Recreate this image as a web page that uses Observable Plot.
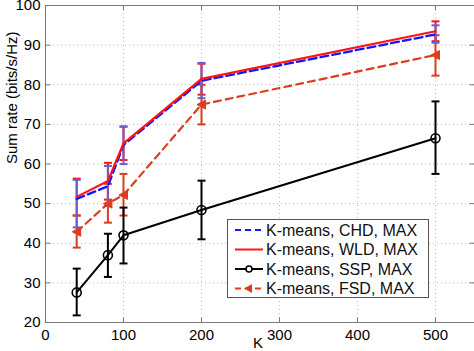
<!DOCTYPE html>
<html><head><meta charset="utf-8">
<script src="https://cdn.jsdelivr.net/npm/d3@7"></script>
<script src="https://cdn.jsdelivr.net/npm/@observablehq/plot@0.6"></script>
<style>
html,body{margin:0;padding:0;background:#fff;}
#wrap{position:relative;width:474px;height:351px;overflow:hidden;font-family:"Liberation Sans",Arial,sans-serif;}
#legend{position:absolute;left:227px;top:220px;}
</style></head><body><div id="wrap"></div>
<script>
// ---- data ----
const K = [40, 80, 100, 200, 500];
const seriesNames = ["K-means, CHD, MAX", "K-means, WLD, MAX", "K-means, SSP, MAX", "K-means, FSD, MAX"];
const chdRate = [51.2, 54.4, 64.8, 81.0, 92.7];
const chdLow  = [44.0, 49.4, 60.0, 76.6, 90.6];
const chdHigh = [56.0, 59.5, 69.5, 85.5, 95.0];
const wldRate = [51.7, 55.7, 65.2, 81.5, 93.5];
const wldLow  = [47.0, 51.0, 61.0, 77.5, 91.0];
const wldHigh = [56.3, 60.3, 69.4, 85.3, 96.0];
const sspRate = [27.6, 37.0, 42.0, 48.4, 66.5];
const sspLow  = [21.8, 31.5, 34.9, 41.0, 57.5];
const sspHigh = [33.6, 42.4, 49.0, 55.8, 75.8];
const fsdRate = [42.9, 50.0, 52.2, 75.0, 87.5];
const fsdLow  = [38.9, 45.2, 47.0, 70.0, 82.3];
const fsdHigh = [47.0, 55.0, 57.5, 80.0, 92.5];
const xTicks = [0, 100, 200, 300, 400, 500];
const yTicks = [20, 30, 40, 50, 60, 70, 80, 90, 100];
const xDomain = [0, 550];
const yDomain = [20, 100];
const xLabel = "K";
const yLabel = "Sum rate (bits/s/Hz)";

// ---- styles ----
const styles = [
  {color: "#1414ff", bar: "#6a5fd0", dash: "8,4", width: 2.3, marker: null},
  {color: "#ff1414", bar: "#ff1414", dash: null, width: 2.2, marker: null},
  {color: "#000000", bar: "#000000", dash: null, width: 2, marker: "circle"},
  {color: "#dc3c1e", bar: "#dc3c1e", dash: "7,5", width: 2.2, marker: "triangle"}
];
const rates = [chdRate, wldRate, sspRate, fsdRate];
const lows = [chdLow, wldLow, sspLow, fsdLow];
const highs = [chdHigh, wldHigh, sspHigh, fsdHigh];
const series = seriesNames.map((name, i) => ({
  name, style: styles[i],
  rows: K.map((k, j) => ({k, v: rates[i][j], lo: lows[i][j], hi: highs[i][j]}))
}));

// custom symbols (pixel sized)
const seg = (x0, y0, x1, y1) => ({draw(c) { c.moveTo(x0, y0); c.lineTo(x1, y1); }});
const capSym = seg(-4, 0, 4, 0);
const tickLeft = seg(0, 0, 5, 0);
const tickRight = seg(0, 0, -5, 0);
const tickBottom = seg(0, 0, 0, -5);
const tickTop = seg(0, 0, 0, 5);
const triLeft = {draw(c) { c.moveTo(-4.5, 0); c.lineTo(4, -4.5); c.lineTo(4, 4.5); c.closePath(); }};

const axisColor = "#7a7a7a";
const gridStyle = {stroke: "#b8b8b8", strokeDasharray: "1,3", strokeWidth: 1};

const marks = [
  Plot.ruleX(xTicks.filter(t => t > xDomain[0]), gridStyle),
  Plot.ruleY(yTicks.filter(t => t > yDomain[0] && t < yDomain[1]), gridStyle),
  Plot.ruleY([yDomain[0], yDomain[1]], {stroke: axisColor, strokeWidth: 1}),
  Plot.ruleX([xDomain[0]], {stroke: axisColor, strokeWidth: 1}),
  Plot.dot(yTicks, {x: () => xDomain[0], y: d => d, symbol: tickLeft, stroke: axisColor, fill: "none", strokeWidth: 1}),
  Plot.dot(yTicks, {x: () => xDomain[1], y: d => d, symbol: tickRight, stroke: axisColor, fill: "none", strokeWidth: 1}),
  Plot.dot(xTicks, {x: d => d, y: () => yDomain[0], symbol: tickBottom, stroke: axisColor, fill: "none", strokeWidth: 1}),
  Plot.dot(xTicks, {x: d => d, y: () => yDomain[1], symbol: tickTop, stroke: axisColor, fill: "none", strokeWidth: 1}),
  Plot.axisX({ticks: xTicks, tickSize: 0, tickPadding: 7, label: null}),
  Plot.axisY({ticks: yTicks, tickSize: 0, tickPadding: 5, label: null}),
  Plot.text([xLabel], {text: d => d, frameAnchor: "bottom", dx: -2, dy: 25, fontSize: 15}),
  Plot.text([yLabel], {text: d => d, frameAnchor: "left", rotate: -90, dx: -33, fontSize: 15})
];

// draw order: error bars (WLD, FSD, SSP, then CHD on top), then lines and markers
const barOrder = [1, 3, 2, 0];
for (const i of barOrder) {
  const s = series[i], st = s.style;
  marks.push(Plot.ruleX(s.rows, {x: "k", y1: "lo", y2: "hi", stroke: st.bar, strokeWidth: 2}));
  marks.push(Plot.dot(s.rows, {x: "k", y: "lo", symbol: capSym, stroke: st.bar, fill: "none", strokeWidth: 2}));
  marks.push(Plot.dot(s.rows, {x: "k", y: "hi", symbol: capSym, stroke: st.bar, fill: "none", strokeWidth: 2}));
}
for (const i of [0, 1, 2, 3]) {
  const s = series[i], st = s.style;
  marks.push(Plot.line(s.rows, {x: "k", y: "v", stroke: st.color, strokeWidth: st.width, strokeDasharray: st.dash}));
  if (st.marker === "circle") marks.push(Plot.dot(s.rows, {x: "k", y: "v", r: 4.5, stroke: st.color, fill: "none", strokeWidth: 1.6}));
  if (st.marker === "triangle") marks.push(Plot.dot(s.rows, {x: "k", y: "v", symbol: triLeft, fill: st.color, stroke: st.color, strokeWidth: 1}));
}

const chart = Plot.plot({
  width: 474, height: 351,
  marginLeft: 45, marginRight: 0, marginTop: 5, marginBottom: 29,
  x: {domain: xDomain},
  y: {domain: yDomain},
  style: {fontFamily: "'Liberation Sans', Arial, sans-serif", fontSize: "15px", background: "white", color: "black", overflow: "visible"},
  marks
});
const wrap = document.getElementById("wrap");
wrap.appendChild(chart);

// ---- legend ----
const lg = d3.create("svg").attr("id", "legend").attr("width", 203).attr("height", 80)
  .style("position", "absolute").style("left", "227px").style("top", "219px");
lg.append("rect").attr("x", 0.5).attr("y", 0.5).attr("width", 201).attr("height", 78)
  .attr("fill", "white").attr("stroke", "#555").attr("stroke-width", 1);
const rowY = [11, 30.5, 50, 69.5];
series.forEach((s, i) => {
  const st = s.style, y = rowY[i];
  lg.append("line").attr("x1", 8).attr("x2", 36).attr("y1", y).attr("y2", y)
    .attr("stroke", st.color).attr("stroke-width", 2).attr("stroke-dasharray", st.dash ? "6,4" : null);
  if (st.marker === "circle") lg.append("circle").attr("cx", 22).attr("cy", y).attr("r", 3).attr("fill", "white").attr("stroke", st.color).attr("stroke-width", 1.6);
  if (st.marker === "triangle") lg.append("path").attr("d", `M${17},${y}L${25},${y - 4.5}L${25},${y + 4.5}Z`).attr("fill", st.color);
  lg.append("text").attr("x", 39).attr("y", y).attr("dy", "0.35em").attr("font-size", 16)
    .attr("font-family", "'Liberation Sans', Arial, sans-serif").attr("fill", "#111").text(s.name);
});
wrap.appendChild(lg.node());
</script></body></html>
